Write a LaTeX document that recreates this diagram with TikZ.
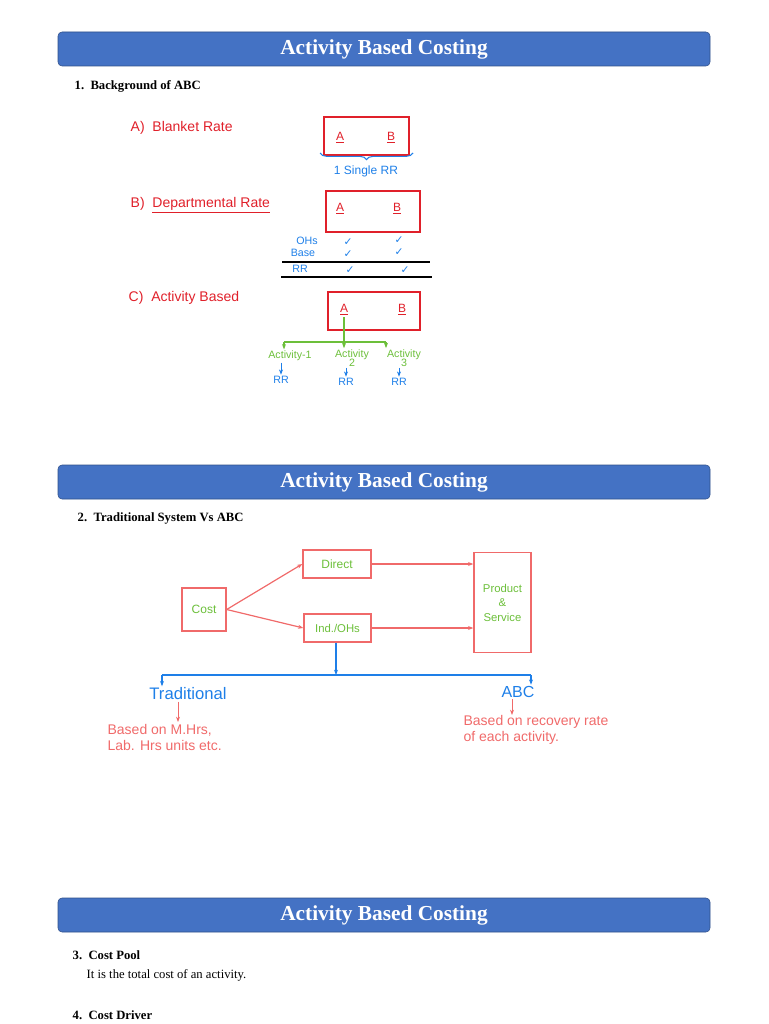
\documentclass[tikz,border=0pt]{standalone}
\usepackage{fontspec}
\setmainfont{Liberation Serif}
\newfontfamily\hand{Liberation Sans}
\newfontfamily\dvs{DejaVu Sans}
\newcommand\myck{{\dvs ✓}}
\usetikzlibrary{arrows.meta,decorations.pathreplacing}
\definecolor{bar}{HTML}{4472C4}
\definecolor{hr}{HTML}{E0202A}
\definecolor{hg}{HTML}{6CBF3A}
\definecolor{hb}{HTML}{1E7FE8}
\definecolor{pr}{HTML}{F06A6A}
\begin{document}
\begin{tikzpicture}[x=0.75pt,y=-0.75pt,
 hdr/.style={fill=bar,draw=bar!70!black,rounded corners=3pt,minimum width=489pt,minimum height=25.5pt,text=white,font=\bfseries\fontsize{16}{18}\selectfont},
 sec/.style={anchor=west,font=\bfseries\fontsize{9.5}{11}\selectfont},
 rt/.style={anchor=west,text=hr,font=\hand\fontsize{10.5}{12}\selectfont},
 rbox/.style={draw=hr,line width=1pt},
 pbox/.style={draw=pr,line width=1pt},
 ul/.style={text=hr,font=\hand\fontsize{9}{10}\selectfont,inner sep=1pt},
 gt/.style={text=hg,font=\hand\fontsize{8}{8.5}\selectfont,inner sep=1pt,align=center},
 bt/.style={text=hb,font=\hand\fontsize{8}{9}\selectfont,inner sep=1pt},
 pt/.style={text=pr,font=\hand\fontsize{10.5}{12}\selectfont,inner sep=1pt,anchor=west,align=left},
 arr/.style={-{Stealth[length=4pt]}}]
\useasboundingbox (0,0) rectangle (768,1024);
% headers
\node[hdr] (h1) at (384,49) {Activity Based Costing};
\node[hdr] (h2) at (384,482) {Activity Based Costing};
\node[hdr] (h3) at (384,915) {Activity Based Costing};
\node[sec] (s1) at (70,86) {1.\ \ Background of ABC};
\node[sec] (s2) at (73,518) {2.\ \ Traditional System Vs ABC};
\node[sec] (s3) at (68,955) {3.\ \ Cost Pool};
\node[anchor=west,font=\fontsize{9.5}{11}\selectfont] (t3) at (82,975) {It is the total cost of an activity.};
\node[sec] (s4) at (68,1015) {4.\ \ Cost Driver};
% section 1
\node[rt] (la) at (126,128) {A)\ \ Blanket Rate};
\node[rbox,minimum width=63.75pt,minimum height=28.5pt] (b1) at (366.5,136) {};
\node[ul] (b1a) at (340,138) {\underline{A}};
\node[ul] (b1b) at (391,138) {\underline{B}};
\draw[hb,line width=0.8pt,decorate,decoration={brace,mirror,amplitude=5pt}] (320,153) -- (413,153);
\node[bt,font=\hand\fontsize{9}{10}\selectfont] (rr1) at (366,171) {1 Single RR};
\node[rt] (lb) at (126,205) {B)\ \ \underline{Departmental Rate}};
\node[rbox,minimum width=70.5pt,minimum height=30.75pt] (b2) at (373,211.5) {};
\node[ul] (b2a) at (340,209) {\underline{A}};
\node[ul] (b2b) at (397,209) {\underline{B}};
\node[bt] (ohs) at (307,241) {OHs};
\node[bt] (base) at (303,253) {Base};
\node[bt] (c1) at (348,242) {\myck}; \node[bt] (c2) at (399,240) {\myck};
\node[bt] (c3) at (348,254) {\myck}; \node[bt] (c4) at (399,252) {\myck};
\draw[line width=1pt] (282,262) -- (430,262);
\node[bt] (rr2) at (300,269) {RR};
\node[bt] (c5) at (350,270) {\myck}; \node[bt] (c6) at (405,270) {\myck};
\draw[line width=1pt] (281,277) -- (432,277);
\node[rt] (lc) at (124,298) {C)\ \ Activity Based};
\node[rbox,minimum width=69pt,minimum height=28.5pt] (b3) at (374,311) {};
\node[ul] (b3a) at (344,310) {\underline{A}};
\node[ul] (b3b) at (402,310) {\underline{B}};
\coordinate (g0) at (344,342);
\coordinate (g1) at (284,342); \coordinate (g3) at (386,342);
\draw[hg,line width=0.8pt] (b3a.south) -- (g0) (g1) -- (g3);
\node[gt] (a1) at (290,356) {Activity-1};
\node[gt] (a2) at (352,358) {Activity\\[-2pt]2};
\node[gt] (a3) at (404,358) {Activity\\[-2pt]3};
\draw[hg,arr,line width=0.8pt] (g1) -- (a1.north -| g1);
\draw[hg,arr,line width=0.8pt] (g0) -- (a2.north -| g0);
\draw[hg,arr,line width=0.8pt] (g3) -- (a3.north -| g3);
\node[bt] (r1) at (281,380) {RR};
\node[bt] (r2) at (346,382) {RR};
\node[bt] (r3) at (399,382) {RR};
\draw[hb,arr,line width=0.6pt] (a1.south -| r1) -- (r1);
\draw[hb,arr,line width=0.6pt] (a2.south -| r2) -- (r2);
\draw[hb,arr,line width=0.6pt] (a3.south -| r3) -- (r3);
% section 2
\node[pbox,minimum width=33pt,minimum height=32.25pt,gt,font=\hand\fontsize{9}{9}\selectfont] (cost) at (204,609.5) {Cost};
\node[pbox,minimum width=51pt,minimum height=21pt,gt,font=\hand\fontsize{9}{9}\selectfont] (dir) at (337,564) {Direct};
\node[pbox,minimum width=50.25pt,minimum height=21pt,gt,font=\hand\fontsize{8.5}{9}\selectfont] (ind) at (337.5,628) {Ind./OHs};
\node[pbox,minimum width=42.75pt,minimum height=75pt,gt,anchor=north,font=\hand\fontsize{8.5}{11}\selectfont] (prod) at (502.5,552) {Product\\\&\\Service};
\draw[pr,arr,line width=0.9pt] (cost.east) -- (dir.west);
\draw[pr,arr,line width=0.9pt] (cost.east) -- (ind.west);
\draw[pr,arr,line width=0.9pt] (dir.east) -- (dir.east -| prod.west);
\draw[pr,arr,line width=0.9pt] (ind.east) -- (ind.east -| prod.west);
\coordinate (m) at (336,675);
\coordinate (ml) at (162,675); \coordinate (mr) at (531,675);
\draw[hb,arr,line width=0.9pt] (ind.south -| m) -- (m);
\draw[hb,line width=0.9pt] (ml) -- (mr);
\node[bt,font=\hand\fontsize{12.5}{13}\selectfont] (trad) at (188,694) {Traditional};
\node[bt,font=\hand\fontsize{12}{13}\selectfont] (abc) at (518,692) {ABC};
\draw[hb,arr,line width=0.9pt] (ml) -- (trad.north -| ml);
\draw[hb,arr,line width=0.9pt] (mr) -- (abc.north -| mr);
\node[pt] (tt) at (106,737) {Based on M.Hrs,\\Lab. Hrs units etc.};
\node[pt] (at) at (462,730) {Based on recovery rate\\of each activity.};
\draw[pr,arr,line width=0.6pt] (trad.south -| 178,0) -- (178,722);
\draw[pr,arr,line width=0.6pt] (abc.south -| 512,0) -- (512,715);
\end{tikzpicture}
\end{document}
